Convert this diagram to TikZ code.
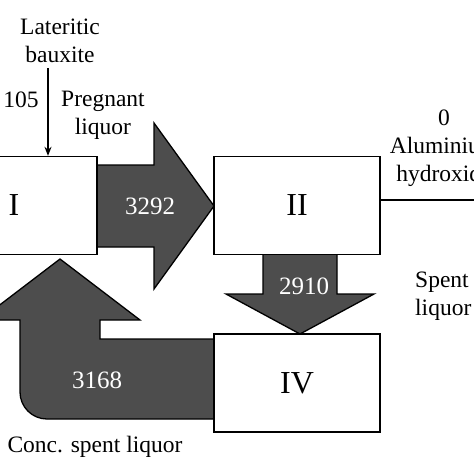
\documentclass[tikz,border=0pt]{standalone}
\usepackage{fontspec}
\setmainfont{Liberation Serif}
\usetikzlibrary{arrows.meta}
\definecolor{flowgray}{RGB}{77,77,77}
\begin{document}
\begin{tikzpicture}[x=1pt,y=-1pt,
  font=\fontsize{23.5}{28}\selectfont,
  unitbox/.style={draw=black,fill=white,line width=1.3pt,minimum width=166pt,minimum height=98pt,inner sep=0pt,font=\fontsize{32}{36}\selectfont},
  flow/.style={draw=black,fill=flowgray,line width=1.3pt,line join=miter},
  flowlabel/.style={text=white,inner sep=0pt,font=\fontsize{25}{28}\selectfont},
  lbl/.style={inner sep=0pt,align=center},
  feed/.style={line width=2pt,-{Stealth[length=9pt,width=7pt]}}]
\useasboundingbox (0,0) rectangle (474,474);
% flows
\path[flow] (97,165) -- (154,165) -- (154,123) -- (214,206) -- (154,289) -- (154,247) -- (97,247) -- cycle;
\path[flow] (263,254) -- (263,294) -- (226,294) -- (300,334) -- (374,294) -- (337,294) -- (337,254) -- cycle;
\path[flow] (214,339) -- (100,339) -- (100,320) -- (140,320) -- (60,259) -- (-20,320) -- (20,320) [rounded corners=27pt] -- (20,419) [sharp corners] -- (214,419) -- cycle;
% boxes
\node[unitbox] (I) at (14,205.5) {I};
\node[unitbox] (II) at (297,205.5) {II};
\node[unitbox] (IV) at (297,383) {IV};
% flow labels
\node[flowlabel] (f3292) at (150,206) {3292};
\node[flowlabel] (f2910) at (304,286) {2910};
\node[flowlabel] (f3168) at (97,380) {3168};
% texts
\node[lbl] (baux) at (60,41) {Lateritic\\bauxite};
\coordinate (feedstart) at (48,68);
\draw[feed] (feedstart) -- (feedstart |- I.north);
\node[lbl] (n105) at (21,100) {105};
\node[lbl] (preg) at (103,115) {Pregnant\\liquor};
\node[lbl] (alu) at (444,148) {0\\Aluminium\\hydroxide};
\coordinate (aluend) at (474,200);
\draw[line width=1.3pt] (II.east |- aluend) -- (aluend);
\node[lbl,align=left,anchor=west] (spent) at (415,296) {Spent\\liquor};
\node[lbl] (conc) at (95,447) {Conc. spent liquor};
\end{tikzpicture}
\end{document}
